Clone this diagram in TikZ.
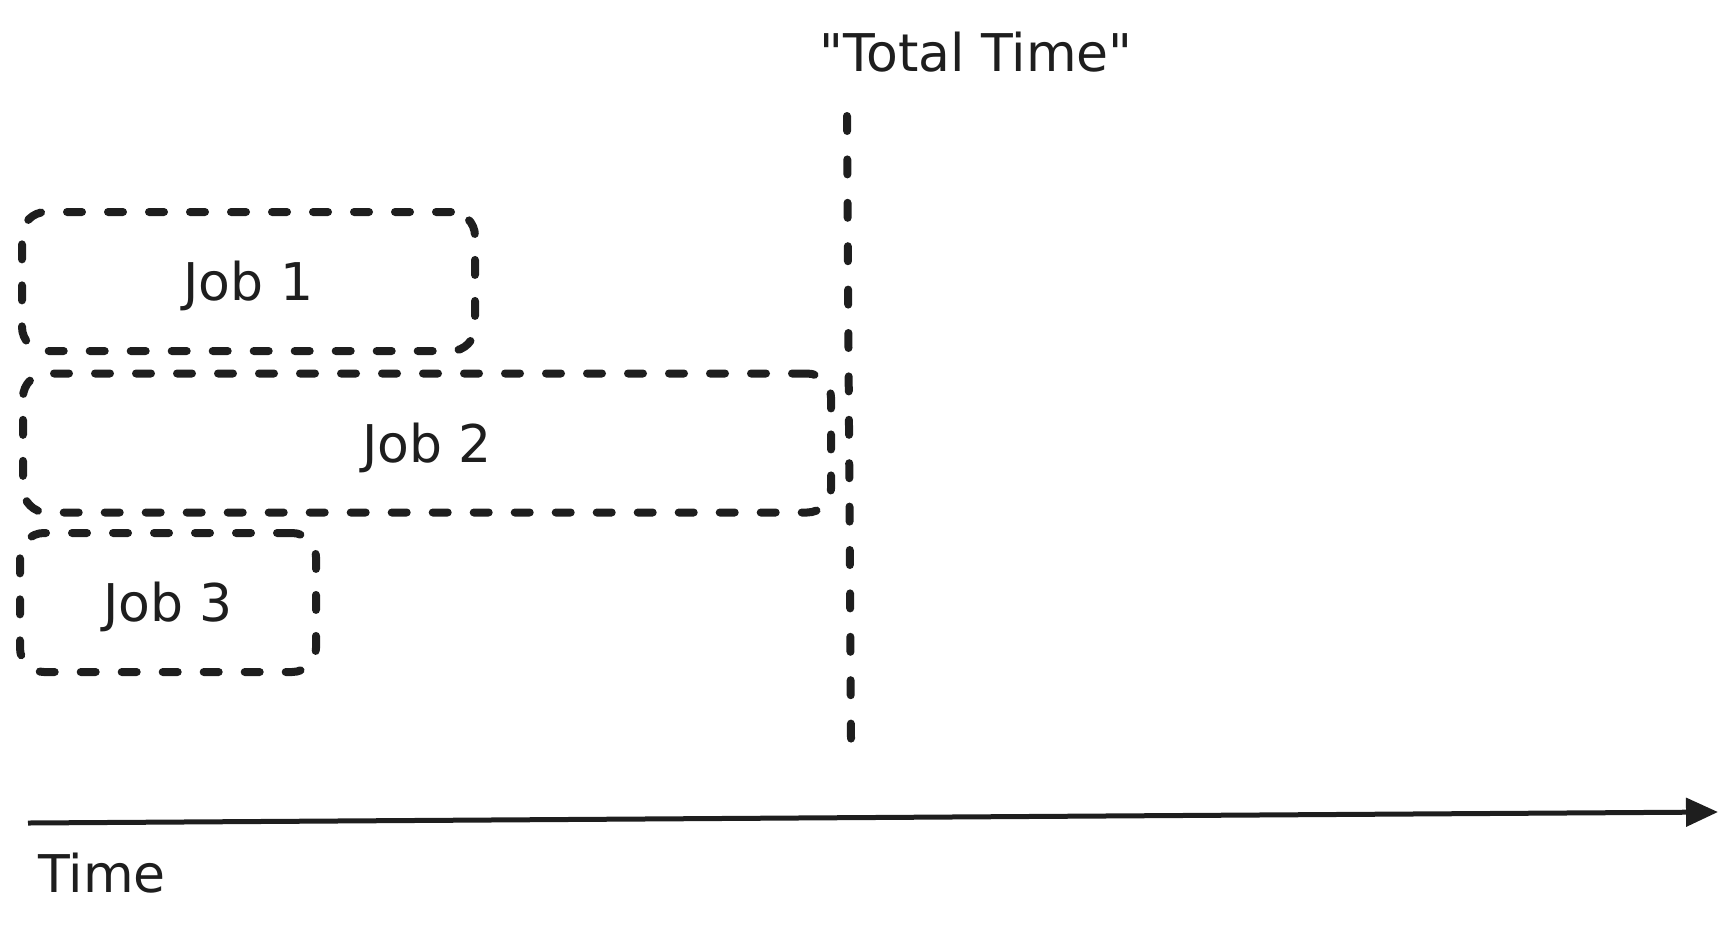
\documentclass[tikz,border=0pt]{standalone}
\usepackage{fontspec}
\setmainfont{DejaVu Sans}[Ligatures=TeXOff]
\usetikzlibrary{arrows.meta}
\definecolor{ink}{HTML}{1E1E1E}
\begin{document}
\begin{tikzpicture}[x=1pt,y=-1pt,
    every node/.style={text=ink,font=\fontsize{52}{60}\selectfont},
    jobbox/.style={draw=ink,line width=8pt,line cap=round,dash pattern=on 15pt off 26pt,
        rounded corners=24pt,minimum height=139pt,text height=38pt,text depth=0pt,inner sep=0pt},
    limit/.style={draw=ink,line width=8pt,line cap=round,dash pattern=on 15pt off 28.4pt}]
            \useasboundingbox (0,0) rectangle (1736,930);
            \node[jobbox,minimum width=453pt] (job1) at (248.5,281.5) {Job 1};
            \node[jobbox,minimum width=808pt] (job2) at (427,443) {Job 2};
            \node[jobbox,minimum width=296pt] (job3) at (168,602.5) {Job 3};
            \node[anchor=base] (total) at (976,71) {"Total Time"};
            \node[anchor=base] (time) at (102,892) {Time};
            \coordinate (limtop) at (847,116);
            \coordinate (limbot) at (851,739);
            \coordinate (t0) at (28,823);
            \coordinate (t1) at (1718,812);

            \draw[limit] (limtop) to (limbot);
            \draw[-{Triangle[length=32pt,width=28pt]},draw=ink,line width=5pt] (t0) to (t1);
\end{tikzpicture}
\end{document}
